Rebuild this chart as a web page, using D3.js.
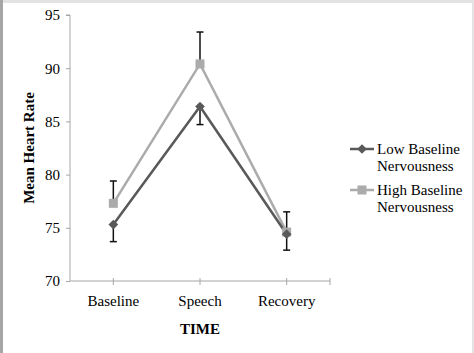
<!DOCTYPE html>
<html>
<head>
<meta charset="utf-8">
<script src="https://cdn.jsdelivr.net/npm/d3@7"></script>
<style>
  body { margin: 0; background: #fff; }
  svg { display: block; font-family: "Liberation Serif", "Times New Roman", serif; }
</style>
</head>
<body>
<div class="chart"></div>
<script>
// data
var categories = ["Baseline", "Speech", "Recovery"];
var lowValues = [75.3, 86.4, 74.4];
var highValues = [77.3, 90.4, 74.6];
var lowErrLower = [73.7, 84.7, 72.9];   // low series only shows lower bar
var highErrUpper = [79.4, 93.4, 76.5];  // high series only shows upper bar
var yTicks = [70, 75, 80, 85, 90, 95];
var legendLabels = [["Low Baseline", "Nervousness"], ["High Baseline", "Nervousness"]];

var svgWidth = 474;
var svgHeight = 353;
var margin = { top: 15, right: 144, bottom: 72, left: 70 };
var width = svgWidth - margin.left - margin.right;
var height = svgHeight - margin.top - margin.bottom;

var lowColor = "#595959";
var highColor = "#ababab";
var serif = "'Liberation Serif', 'Times New Roman', serif";

var svg = d3.select(".chart")
  .append("svg")
  .attr("width", svgWidth)
  .attr("height", svgHeight);

// frame bits around the image
svg.append("rect").attr("x", 0).attr("y", 0).attr("width", svgWidth).attr("height", 3).attr("fill", "#e3e3e3");
svg.append("rect").attr("x", 0).attr("y", 0).attr("width", 3).attr("height", svgHeight).attr("fill", "#a6a6a6");
svg.append("rect").attr("x", svgWidth - 2).attr("y", 0).attr("width", 2).attr("height", svgHeight).attr("fill", "#e3e3e3");

var chartGroup = svg.append("g")
  .attr("transform", `translate(${margin.left}, ${margin.top})`);

var xScale = d3.scaleBand()
  .domain(categories)
  .range([0, width]);

var yScale = d3.scaleLinear()
  .domain([70, 95])
  .range([height, 0]);

var cx = d => xScale(d) + xScale.bandwidth() / 2;

// y axis
var leftAxis = d3.axisLeft(yScale).tickValues(yTicks).tickSize(4).tickPadding(6);
var yAxisG = chartGroup.append("g").call(leftAxis)
  .attr("font-family", null).attr("font-size", null);
yAxisG.select(".domain").attr("stroke", "#a6a6a6").attr("d", `M-4,${yScale(95)}H0V${height}`);
yAxisG.selectAll(".tick line").attr("stroke", "#a6a6a6");
yAxisG.selectAll(".tick text").style("font-size", "15px").style("font-family", serif).attr("fill", "#000");

// x axis
var bottomAxis = d3.axisBottom(xScale).tickSize(0).tickPadding(14);
var xAxisG = chartGroup.append("g")
  .attr("transform", `translate(0, ${height})`)
  .call(bottomAxis)
  .attr("font-family", null).attr("font-size", null);
xAxisG.select(".domain").attr("stroke", "#a6a6a6").attr("d", `M0,0H${width}`);
xAxisG.selectAll(".tick text").style("font-size", "15px").style("font-family", serif).attr("fill", "#000");
// small ticks crossing the axis at category centres and at the end
var xTickPos = categories.map(cx).concat([width]);
xAxisG.selectAll(".xt")
  .data(xTickPos)
  .enter()
  .append("line")
  .attr("class", "xt")
  .attr("x1", d => d).attr("x2", d => d)
  .attr("y1", -3).attr("y2", 4)
  .attr("stroke", "#a6a6a6");

// lines
var line = d3.line()
  .x((d, i) => cx(categories[i]))
  .y(d => yScale(d));

chartGroup.append("path")
  .datum(highValues)
  .attr("d", line)
  .attr("fill", "none")
  .attr("stroke", highColor)
  .attr("stroke-width", 2.5);

chartGroup.append("path")
  .datum(lowValues)
  .attr("d", line)
  .attr("fill", "none")
  .attr("stroke", lowColor)
  .attr("stroke-width", 2.5);

// error bars
function errorBars(values, ends) {
  var g = chartGroup.append("g");
  values.forEach(function (v, i) {
    var x = cx(categories[i]);
    g.append("line")
      .attr("x1", x).attr("x2", x)
      .attr("y1", yScale(v)).attr("y2", yScale(ends[i]))
      .attr("stroke", "#111").attr("stroke-width", 1.5);
    g.append("line")
      .attr("x1", x - 3.5).attr("x2", x + 3.5)
      .attr("y1", yScale(ends[i])).attr("y2", yScale(ends[i]))
      .attr("stroke", "#111").attr("stroke-width", 1.5);
  });
}
errorBars(highValues, highErrUpper);
errorBars(lowValues, lowErrLower);

// markers
chartGroup.selectAll(".sq")
  .data(highValues)
  .enter()
  .append("rect")
  .attr("class", "sq")
  .attr("x", (d, i) => cx(categories[i]) - 4.5)
  .attr("y", d => yScale(d) - 4.5)
  .attr("width", 9)
  .attr("height", 9)
  .attr("fill", highColor);

var diamond = d3.symbol().type(d3.symbolDiamond2).size(60);
chartGroup.selectAll(".dm")
  .data(lowValues)
  .enter()
  .append("path")
  .attr("class", "dm")
  .attr("d", diamond)
  .attr("transform", (d, i) => `translate(${cx(categories[i])}, ${yScale(d)})`)
  .attr("fill", lowColor);

// axis titles
svg.append("text")
  .attr("transform", `translate(34, ${margin.top + height / 2}) rotate(-90)`)
  .attr("text-anchor", "middle")
  .style("font-family", serif)
  .style("font-size", "15px")
  .style("font-weight", "bold")
  .text("Mean Heart Rate");

svg.append("text")
  .attr("x", margin.left + cx("Speech"))
  .attr("y", 334)
  .attr("text-anchor", "middle")
  .style("font-family", serif)
  .style("font-size", "15px")
  .style("font-weight", "bold")
  .text("TIME");

// legend
var legend = svg.append("g").attr("transform", "translate(350, 149)");
[lowColor, highColor].forEach(function (c, i) {
  var g = legend.append("g").attr("transform", `translate(0, ${i * 41})`);
  g.append("line").attr("x1", 0).attr("x2", 24).attr("y1", 0).attr("y2", 0)
    .attr("stroke", c).attr("stroke-width", 2.5);
  if (i === 0) {
    g.append("path").attr("d", diamond).attr("transform", "translate(12,0)").attr("fill", c);
  } else {
    g.append("rect").attr("x", 7.5).attr("y", -4.5).attr("width", 9).attr("height", 9).attr("fill", c);
  }
  legendLabels[i].forEach(function (t, j) {
    g.append("text")
      .attr("x", 27)
      .attr("y", 5 + j * 17)
      .style("font-family", serif)
      .style("font-size", "15px")
      .text(t);
  });
});
</script>
</body>
</html>
